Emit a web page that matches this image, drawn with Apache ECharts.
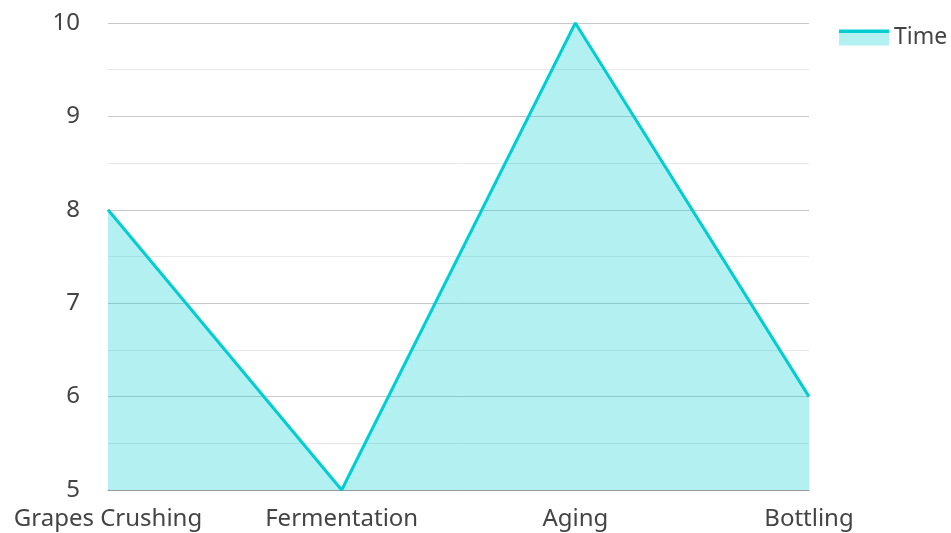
<!DOCTYPE html>
<html>
<head>
<meta charset="utf-8">
<script src="https://cdn.jsdelivr.net/npm/echarts@6/dist/echarts.min.js"></script>
<style>html,body{margin:0;padding:0;background:#fff}#c{width:951px;height:533px}</style>
</head>
<body>
<div id="c"></div>
<script>
var categories = ['Grapes Crushing', 'Fermentation', 'Aging', 'Bottling'];
var timeValues = [8, 5, 10, 6];
var seriesName = 'Time';

var chart = echarts.init(document.getElementById('c'));
chart.setOption({
  textStyle: { fontFamily: 'Noto Sans' },
  legend: {
    data: [{
      name: seriesName,
      icon: 'rect',
      itemStyle: {
        color: {
          type: 'linear', x: 0, y: 0, x2: 0, y2: 1,
          colorStops: [
            { offset: 0, color: '#00CED1' },
            { offset: 0.22, color: '#00CED1' },
            { offset: 0.22, color: '#B2F0F1' },
            { offset: 1, color: '#B2F0F1' }
          ]
        }
      }
    }],
    left: 834,
    top: 21,
    itemWidth: 50,
    itemHeight: 16,
    itemGap: 10,
    textStyle: { fontSize: 23, color: '#444', fontFamily: 'Noto Sans' }
  },
  grid: { left: 108, right: 142, top: 23, bottom: 43, containLabel: false },
  xAxis: {
    type: 'category',
    data: categories,
    boundaryGap: false,
    axisTick: { show: false },
    axisLine: { lineStyle: { color: '#999' } },
    axisLabel: { fontSize: 24, color: '#444', margin: 17, interval: 0, fontFamily: 'Noto Sans' }
  },
  yAxis: {
    type: 'value',
    min: 5,
    max: 10,
    interval: 1,
    axisLine: { show: false },
    axisTick: { show: false },
    axisLabel: { fontSize: 24, color: '#444', margin: 28, fontFamily: 'Noto Sans' },
    splitLine: { lineStyle: { color: '#c8c8c8' } },
    minorTick: { show: false, splitNumber: 2 },
    minorSplitLine: { show: true, lineStyle: { color: '#e8e8e8' } }
  },
  series: [{
    name: seriesName,
    type: 'line',
    data: timeValues,
    showSymbol: false,
    symbol: 'none',
    lineStyle: { color: '#00CED1', width: 3 },
    itemStyle: { color: '#00CED1' },
    areaStyle: { color: '#00CED1', opacity: 0.3 }
  }]
});
</script>
</body>
</html>
